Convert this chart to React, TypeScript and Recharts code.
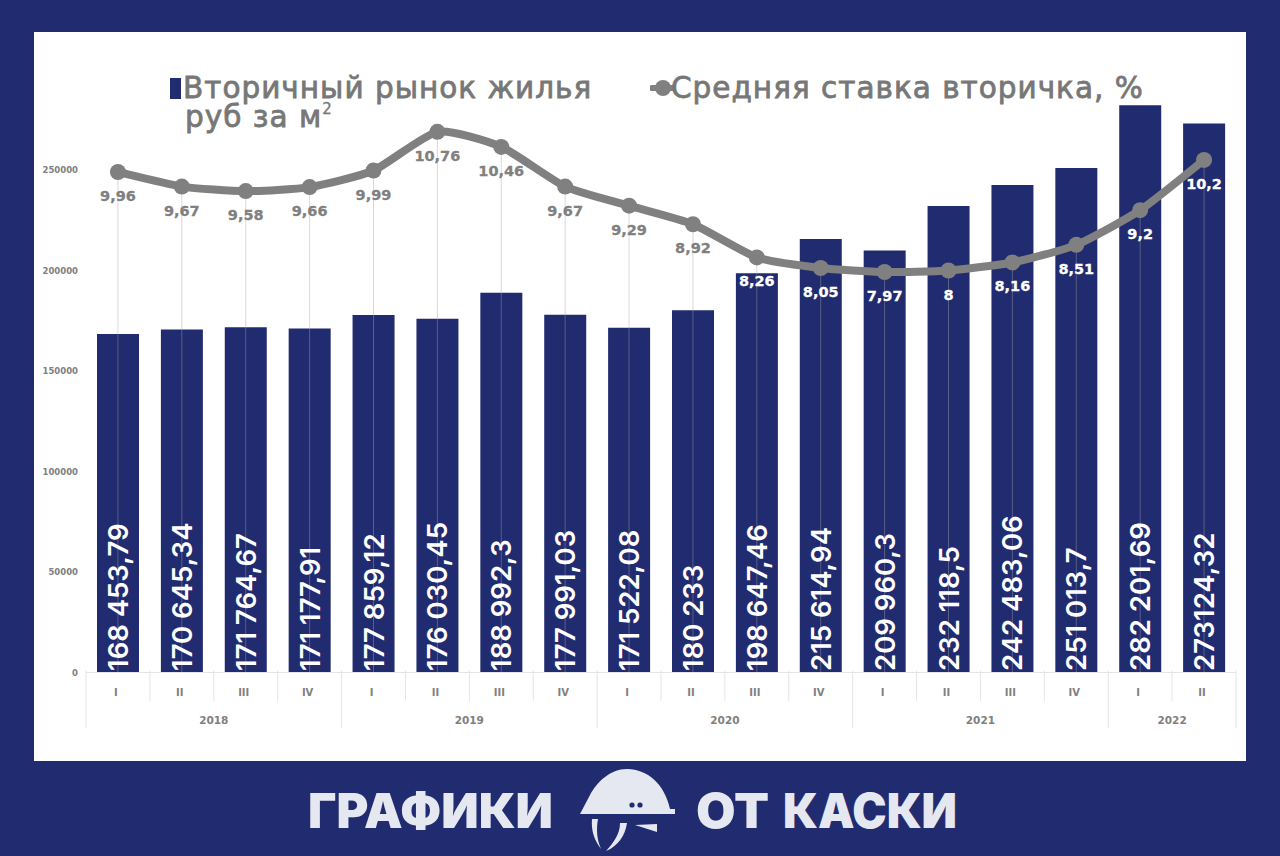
import React from "react";
import { ComposedChart, Bar, Line, XAxis, YAxis, CartesianGrid, LabelList, ErrorBar, Legend } from "recharts";

const NAVY = "#212b6f";
const GREY = "#808080";
const LIGHT = "#e6e8f1";

const quarters = ["I","II","III","IV","I","II","III","IV","I","II","III","IV","I","II","III","IV","I","II"];
const years = [2018,2018,2018,2018,2019,2019,2019,2019,2020,2020,2020,2020,2021,2021,2021,2021,2022,2022];
const prices = [168453.79,170645.34,171764.67,171177.91,177859.12,176030.45,188992.3,177991.03,171522.08,180233,198647.46,215614.94,209960.3,232118.5,242483.06,251013.7,282201.69,273124.32];
const priceLabels = ["168 453,79","170 645,34","171 764,67","171 177,91","177 859,12","176 030,45","188 992,3","177 991,03","171 522,08","180 233","198 647,46","215 614,94","209 960,3","232 118,5","242 483,06","251 013,7","282 201,69","273124,32"];
const rates = [9.96,9.67,9.58,9.66,9.99,10.76,10.46,9.67,9.29,8.92,8.26,8.05,7.97,8,8.16,8.51,9.2,10.2];
const rateLabels = ["9,96","9,67","9,58","9,66","9,99","10,76","10,46","9,67","9,29","8,92","8,26","8,05","7,97","8","8,16","8,51","9,2","10,2"];
const yTicks = [0,50000,100000,150000,200000,250000];

const data = quarters.map((q,i)=>({key:i,q,year:years[i],price:prices[i],rate:rates[i],priceLabel:priceLabels[i],rateLabel:rateLabels[i],drop:[rates[i],0]}));

const PLOT_LEFT = 86, PLOT_RIGHT = 1236, PLOT_TOP = 69.5, PLOT_BOTTOM = 672.5;
const Q_AXIS_H = 40, Y_AXIS_H = 50;
const BAND = (PLOT_RIGHT-PLOT_LEFT)/quarters.length;
const FONT = "Inter, 'Noto Sans', sans-serif";
const WIDE = "'DejaVu Sans', sans-serif";

// Gentle spline: straighter than monotone between points, rounded at the joints.
function softCurve(context:any){
  let pts:[number,number][] = [];
  const k = 0.1;
  return {
    areaStart(){}, areaEnd(){},
    lineStart(){ pts = []; },
    point(x:number,y:number){ pts.push([x,y]); },
    lineEnd(){
      pts.forEach((p,i)=>{
        if(i===0){ context.moveTo(p[0],p[1]); return; }
        const p0 = pts[i-1], pm = pts[Math.max(i-2,0)], pn = pts[Math.min(i+1,pts.length-1)];
        context.bezierCurveTo(p0[0]+(p[0]-pm[0])*k,p0[1]+(p[1]-pm[1])*k,p[0]-(pn[0]-p0[0])*k,p[1]-(pn[1]-p0[1])*k,p[0],p[1]);
      });
    }
  };
}

function QuarterTick(props:any){
  const {x,payload} = props;
  const i = payload.value as number;
  const left = x-BAND/2;
  const isYearStart = i===0 || years[i]!==years[i-1];
  const lines = [<line key="l" x1={left} x2={left} y1={PLOT_BOTTOM-2} y2={isYearStart?728:701} stroke="#e4e4e4" strokeWidth={1}/>];
  if(i===quarters.length-1) lines.push(<line key="r" x1={left+BAND} x2={left+BAND} y1={PLOT_BOTTOM-2} y2={728} stroke="#e4e4e4" strokeWidth={1}/>);
  return <g>{lines}<text x={x-2} y={696} textAnchor="middle" fontFamily={WIDE} fontWeight={700} fontSize={10} fill={GREY}>{quarters[i]}</text></g>;
}

function YearTick(props:any){
  const {x,payload} = props;
  const i = payload.value as number;
  const group = years.map((y,k)=>y===years[i]?k:-1).filter(k=>k>=0);
  if(group[0]!==i) return null;
  return <text x={x-BAND/2+BAND*group.length/2} y={724} textAnchor="middle" fontFamily={WIDE} fontWeight={700} fontSize={10.5} fill={GREY}>{years[i]}</text>;
}

function PriceLabel(props:any){
  const {viewBox,index} = props;
  const cx = viewBox.x+viewBox.width/2;
  return <text transform={`translate(${cx+10},671) rotate(-90)`} fontFamily={FONT} fontWeight={600} fontSize={27.5} fill="#fff">{priceLabels[index]}</text>;
}

function RateLabel(props:any){
  const {x,y,index} = props;
  const fill = index>=10?"#fff":GREY;
  return <text x={x} y={y+29} textAnchor="middle" fontFamily={WIDE} fontWeight={700} fontSize={14.5} fill={fill} stroke={fill} strokeWidth={0.3}>{rateLabels[index]}</text>;
}

function LegendBlock({payload}:any){
  const items = payload ?? [];
  const bar = items.find((p:any)=>p.dataKey==="price");
  const line = items.find((p:any)=>p.dataKey==="rate");
  const txt:React.CSSProperties = {position:"absolute",fontFamily:WIDE,fontWeight:400,fontSize:29.5,letterSpacing:1,color:"#777",whiteSpace:"nowrap",lineHeight:"30px",WebkitTextStroke:"0.8px #777"};
  return <div style={{position:"relative",width:1280,height:0}}>
    <div style={{position:"absolute",left:170,top:78,width:11,height:21,background:NAVY}}/>
    <div style={{...txt,left:183,top:73}}>{bar?.value}</div>
    <div style={{...txt,left:185,top:102}}>руб за м<sup style={{fontSize:15,lineHeight:0,verticalAlign:"13px",WebkitTextStroke:"0.3px #777"}}>2</sup></div>
    <svg style={{position:"absolute",left:650,top:76}} width={26} height={24}><line x1={2} x2={24} y1={12} y2={12} stroke={GREY} strokeWidth={6} strokeLinecap="round"/><circle cx={13} cy={12} r={8} fill={GREY}/></svg>
    <div style={{...txt,left:671,top:73}}>{line?.value}</div>
  </div>;
}

function Logo(){
  return <svg style={{position:"absolute",left:0,top:0}} width={1280} height={856}>
    <path d="M580 814 L590 795 C597 782 610 769 627 769 C648 769 665 785 670 809 L675 809 L675 814 Z" fill={LIGHT}/>
    <circle cx={632} cy={805} r={2.6} fill={NAVY}/><circle cx={640} cy={805} r={2.6} fill={NAVY}/>
    <path d="M592 819 L598 819 C596 830 597 840 601 849 C594 840 591 830 592 819 Z" fill={LIGHT}/>
    <path d="M620 823 L627 823 C625 836 618 846 606 851 C614 842 620 834 620 823 Z" fill={LIGHT}/>
    <path d="M635 825 L657 824 L657 832 Z" fill={LIGHT}/>
    <text x={308} y={828} fontFamily={FONT} fontWeight={900} fontSize={48} fill={LIGHT} textLength={245} lengthAdjust="spacingAndGlyphs">ГРАФИКИ</text>
    <text x={696} y={828} fontFamily={FONT} fontWeight={900} fontSize={48} fill={LIGHT} textLength={73} lengthAdjust="spacingAndGlyphs">ОТ</text>
    <text x={783} y={828} fontFamily={FONT} fontWeight={900} fontSize={48} fill={LIGHT} textLength={174} lengthAdjust="spacingAndGlyphs">КАСКИ</text>
  </svg>;
}

export default function App(){
  return <div style={{position:"absolute",left:0,top:0,width:1280,height:856,background:NAVY,overflow:"hidden"}}>
    <div style={{position:"absolute",left:34,top:32,width:1212,height:729,background:"#fff"}}/>
    <div style={{position:"absolute",left:0,top:0}}>
      <ComposedChart width={1280} height={856} data={data} margin={{top:PLOT_TOP,right:1280-PLOT_RIGHT,bottom:856-PLOT_BOTTOM-Q_AXIS_H-Y_AXIS_H,left:0}}>
        <CartesianGrid horizontal vertical={false} stroke="#ebebeb" strokeWidth={1} syncWithTicks/>
        <XAxis xAxisId="q" dataKey="key" type="category" interval={0} height={Q_AXIS_H} axisLine={{stroke:"#e4e4e4"}} tickLine={false} tick={<QuarterTick/>}/>
        <XAxis xAxisId="y" dataKey="key" type="category" interval={0} height={Y_AXIS_H} axisLine={false} tickLine={false} tick={<YearTick/>}/>
        <YAxis yAxisId="p" width={PLOT_LEFT} domain={[0,300000]} ticks={yTicks} interval={0} axisLine={false} tickLine={false} tick={{fontFamily:WIDE,fontWeight:700,fontSize:8.5,fill:GREY}} tickMargin={2}/>
        <YAxis yAxisId="r" orientation="right" hide domain={[0,12]}/>
        <Bar xAxisId="q" yAxisId="p" dataKey="price" name="Вторичный рынок жилья" fill={NAVY} barSize={42} isAnimationActive={false}>
          <LabelList dataKey="priceLabel" content={<PriceLabel/>}/>
        </Bar>
        <Line xAxisId="q" yAxisId="r" dataKey="rate" name="Средняя ставка вторичка, %" type={softCurve as any} stroke={GREY} strokeWidth={8} dot={{r:8,fill:GREY,stroke:GREY,strokeWidth:0}} isAnimationActive={false}>
          <ErrorBar dataKey="drop" direction="y" width={0} stroke="#a5a5a5" strokeOpacity={0.43} strokeWidth={1} isAnimationActive={false}/>
          <LabelList dataKey="rateLabel" content={<RateLabel/>}/>
        </Line>
        <Legend content={<LegendBlock/>} wrapperStyle={{position:"absolute",left:0,top:0,width:1280,height:0}}/>
      </ComposedChart>
    </div>
    <Logo/>
  </div>;
}
